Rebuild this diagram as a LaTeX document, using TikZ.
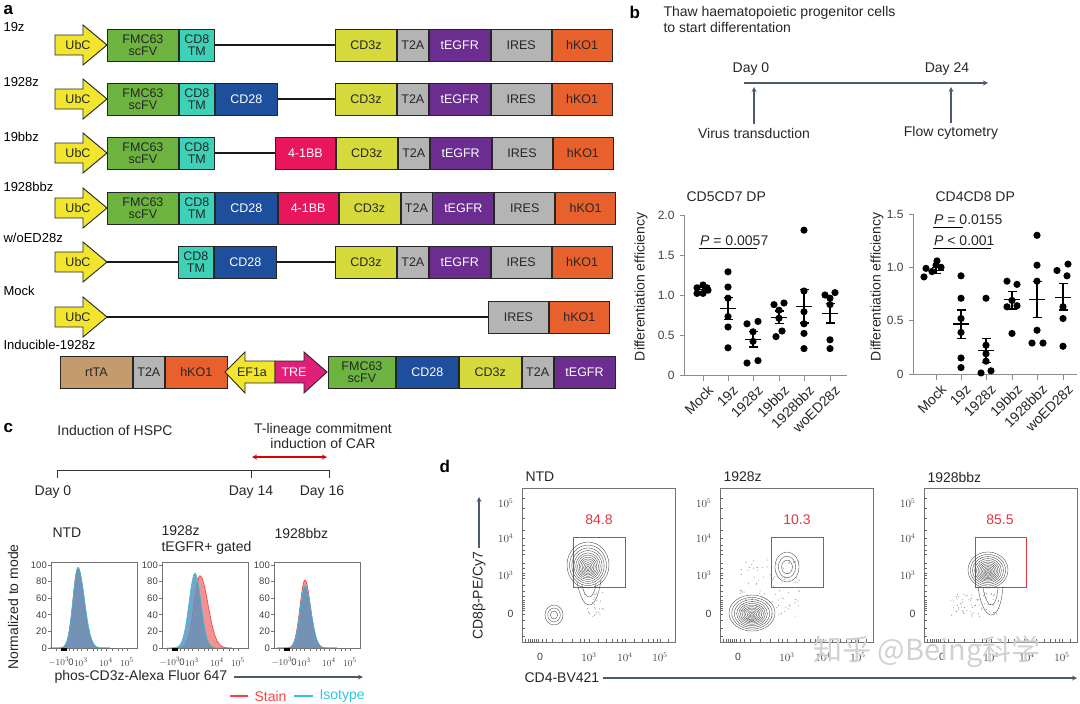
\documentclass[tikz,border=0pt]{standalone}
\usepackage{fontspec}
\setmainfont{Liberation Sans}
\newfontfamily\cjkfont{Noto Sans CJK SC}
\usetikzlibrary{positioning,calc}

\definecolor{ubcyel}{HTML}{F2E52E}
\definecolor{fmcgreen}{HTML}{6CB33F}
\definecolor{tmteal}{HTML}{3DD2B8}
\definecolor{cdblue}{HTML}{1D4F9C}
\definecolor{bbpink}{HTML}{E8175D}
\definecolor{zetayel}{HTML}{D6D93B}
\definecolor{tagray}{HTML}{B4B4B4}
\definecolor{egfrpur}{HTML}{6B2D8F}
\definecolor{hkoorange}{HTML}{E8602C}
\definecolor{rttatan}{HTML}{C59B6D}
\definecolor{tremag}{HTML}{E21F78}
\definecolor{axisgray}{HTML}{4D5A6B}
\definecolor{gatered}{HTML}{E0383B}
\definecolor{stainred}{HTML}{F29292}
\definecolor{isoblue}{HTML}{5F93BC}
\definecolor{isocyan}{HTML}{2EC4DD}

\begin{document}
\begin{tikzpicture}[x=1pt, y=-1pt,
    seg/.style={rectangle, draw=black!85, line width=0.9pt, minimum height=32pt, inner sep=0pt, align=center, text=black!85, font=\fontsize{12.5}{12}\selectfont},
    wseg/.style={seg, text=white},
    promoter/.style={draw=black!85, line width=0.9pt, fill=ubcyel},
    link/.style={line width=1.6pt, black!90},
    rowlab/.style={anchor=west, font=\fontsize{13}{13}\selectfont},
    panel/.style={anchor=west, font=\fontsize{17}{17}\selectfont\bfseries},
    txt/.style={font=\fontsize{14}{15.5}\selectfont, text=black!85},
    small/.style={font=\fontsize{12}{12}\selectfont, text=black!75},
    tiny/.style={font=\fontsize{9.5}{10}\selectfont, text=black!75},
    arrowb/.style={->, >=stealth, line width=1.2pt, axisgray},
    axis/.style={line width=0.8pt, black!45},
    meanbar/.style={line width=1.3pt, black},
    contour/.style={line width=0.35pt, black!75},
    gate/.style={line width=0.9pt, gatered}]

\useasboundingbox (0,0) rectangle (1080,704);

% ---------------- panel a ----------------
\node[panel] (pa) at (0,10) {a};

% row labels
\node[rowlab] (l19z) at (0,27) {19z};
\node[rowlab] (l1928z) at (0,82) {1928z};
\node[rowlab] (l19bbz) at (0,137) {19bbz};
\node[rowlab] (l1928bbz) at (0,187) {1928bbz};
\node[rowlab] (lwoe) at (0,238) {w/oED28z};
\node[rowlab] (lmock) at (0,291) {Mock};
\node[rowlab] (lind) at (0,345) {Inducible-1928z};

% UbC promoters
\foreach \yy in {45,99,153,208,262,317} {
    \draw[promoter] (55,\yy-10) -- (83,\yy-10) -- (83,\yy-20) -- (107,\yy) -- (83,\yy+20) -- (83,\yy+10) -- (55,\yy+10) -- cycle;
    \node[seg, draw=none, fill=none] (ubc\yy) at (78,\yy) {UbC};
}

% 19z
\node[seg, fill=fmcgreen, minimum width=71pt, anchor=west] (fmc1) at (107,45) {FMC63\\scFV};
\node[seg, fill=tmteal, minimum width=35pt, right=0pt of fmc1] (tm1) {CD8\\TM};
\node[seg, fill=zetayel, minimum width=61pt, anchor=west] (zeta1) at (335,45) {CD3z};
\node[seg, fill=tagray, minimum width=31pt, right=0pt of zeta1] (tta1) {T2A};
\node[wseg, fill=egfrpur, minimum width=61pt, right=0pt of tta1] (egfr1) {tEGFR};
\node[seg, fill=tagray, minimum width=60pt, right=0pt of egfr1] (ires1) {IRES};
\node[seg, fill=hkoorange, minimum width=60pt, right=0pt of ires1] (hko1) {hKO1};
\draw[link] (tm1.east) -- (zeta1.west);

% 1928z
\node[seg, fill=fmcgreen, minimum width=71pt, anchor=west] (fmc2) at (107,99) {FMC63\\scFV};
\node[seg, fill=tmteal, minimum width=35pt, right=0pt of fmc2] (tm2) {CD8\\TM};
\node[wseg, fill=cdblue, minimum width=62pt, right=0pt of tm2] (cd2) {CD28};
\node[seg, fill=zetayel, minimum width=61pt, anchor=west] (zeta2) at (335,99) {CD3z};
\node[seg, fill=tagray, minimum width=31pt, right=0pt of zeta2] (tta2) {T2A};
\node[wseg, fill=egfrpur, minimum width=61pt, right=0pt of tta2] (egfr2) {tEGFR};
\node[seg, fill=tagray, minimum width=60pt, right=0pt of egfr2] (ires2) {IRES};
\node[seg, fill=hkoorange, minimum width=60pt, right=0pt of ires2] (hko2) {hKO1};
\draw[link] (cd2.east) -- (zeta2.west);

% 19bbz
\node[seg, fill=fmcgreen, minimum width=71pt, anchor=west] (fmc3) at (107,153) {FMC63\\scFV};
\node[seg, fill=tmteal, minimum width=35pt, right=0pt of fmc3] (tm3) {CD8\\TM};
\node[wseg, fill=bbpink, minimum width=60pt, anchor=west] (bb3) at (275,153) {4-1BB};
\node[seg, fill=zetayel, minimum width=61pt, right=0pt of bb3] (zeta3) {CD3z};
\node[seg, fill=tagray, minimum width=31pt, right=0pt of zeta3] (tta3) {T2A};
\node[wseg, fill=egfrpur, minimum width=61pt, right=0pt of tta3] (egfr3) {tEGFR};
\node[seg, fill=tagray, minimum width=60pt, right=0pt of egfr3] (ires3) {IRES};
\node[seg, fill=hkoorange, minimum width=60pt, right=0pt of ires3] (hko3) {hKO1};
\draw[link] (tm3.east) -- (bb3.west);

% 1928bbz
\node[seg, fill=fmcgreen, minimum width=71pt, anchor=west] (fmc4) at (107,208) {FMC63\\scFV};
\node[seg, fill=tmteal, minimum width=35pt, right=0pt of fmc4] (tm4) {CD8\\TM};
\node[wseg, fill=cdblue, minimum width=62pt, right=0pt of tm4] (cd4) {CD28};
\node[wseg, fill=bbpink, minimum width=60pt, right=0pt of cd4] (bb4) {4-1BB};
\node[seg, fill=zetayel, minimum width=61pt, right=0pt of bb4] (zeta4) {CD3z};
\node[seg, fill=tagray, minimum width=31pt, right=0pt of zeta4] (tta4) {T2A};
\node[wseg, fill=egfrpur, minimum width=61pt, right=0pt of tta4] (egfr4) {tEGFR};
\node[seg, fill=tagray, minimum width=60pt, right=0pt of egfr4] (ires4) {IRES};
\node[seg, fill=hkoorange, minimum width=60pt, right=0pt of ires4] (hko4) {hKO1};

% w/oED28z
\node[seg, fill=tmteal, minimum width=35pt, anchor=west] (tm5) at (178,262) {CD8\\TM};
\node[wseg, fill=cdblue, minimum width=62pt, right=0pt of tm5] (cd5) {CD28};
\node[seg, fill=zetayel, minimum width=61pt, anchor=west] (zeta5) at (335,262) {CD3z};
\node[seg, fill=tagray, minimum width=31pt, right=0pt of zeta5] (tta5) {T2A};
\node[wseg, fill=egfrpur, minimum width=61pt, right=0pt of tta5] (egfr5) {tEGFR};
\node[seg, fill=tagray, minimum width=60pt, right=0pt of egfr5] (ires5) {IRES};
\node[seg, fill=hkoorange, minimum width=60pt, right=0pt of ires5] (hko5) {hKO1};
\draw[link] (107,262) -- (tm5.west);
\draw[link] (cd5.east) -- (zeta5.west);

% Mock
\node[seg, fill=tagray, minimum width=60pt, anchor=west] (ires6) at (488,317) {IRES};
\node[seg, fill=hkoorange, minimum width=60pt, right=0pt of ires6] (hko6) {hKO1};
\draw[link] (107,317) -- (ires6.west);

% Inducible-1928z
\node[seg, fill=rttatan, minimum width=72pt, anchor=west] (rtta7) at (60,372) {rtTA};
\node[seg, fill=tagray, minimum width=31pt, right=0pt of rtta7] (tta7a) {T2A};
\node[seg, fill=hkoorange, minimum width=62pt, right=0pt of tta7a] (hko7) {hKO1};
\draw[promoter] (225,372) -- (245,352) -- (245,361) -- (275,361) -- (275,383) -- (245,383) -- (245,393) -- cycle;
\node[seg, draw=none, fill=none] (ef7) at (252,372) {EF1a};
\draw[promoter, fill=tremag] (275,361) -- (304,361) -- (304,352) -- (327,372) -- (304,393) -- (304,383) -- (275,383) -- cycle;
\node[wseg, draw=none, fill=none] (tre7) at (294,372) {TRE};
\node[seg, fill=fmcgreen, minimum width=67pt, anchor=west] (fmc7) at (328,372) {FMC63\\scFV};
\node[wseg, fill=cdblue, minimum width=62pt, right=0pt of fmc7] (cd7) {CD28};
\node[seg, fill=zetayel, minimum width=62pt, right=0pt of cd7] (zeta7) {CD3z};
\node[seg, fill=tagray, minimum width=31pt, right=0pt of zeta7] (tta7b) {T2A};
\node[wseg, fill=egfrpur, minimum width=61pt, right=0pt of tta7b] (egfr7) {tEGFR};

% ---------------- panel b ----------------
\node[panel] (pb) at (626,12) {b};
\node[txt, anchor=north west, align=left] (thaw) at (660,3) {Thaw haematopoietic progenitor cells\\to start differentation};

\coordinate (tl0) at (744,83);
\coordinate (tl1) at (988,83);
\draw[arrowb] (tl0) -- (tl1);
\node[txt] (d0) at (751,69) {Day 0};
\node[txt] (d24) at (947,69) {Day 24};
\node[txt] (vtr) at (754,133) {Virus transduction};
\node[txt] (flow) at (951,133) {Flow cytometry};
\coordinate (up0) at (754,87);
\coordinate (up1) at (951,87);
\draw[arrowb] (vtr.north) -- (up0);
\draw[arrowb] (flow.north) -- (up1);

% plot CD5CD7 DP
\node[txt, anchor=west] (t1) at (683,197) {CD5CD7 DP};
\draw[axis] (684,215) -- (684,375) -- (847,375);
\foreach \v/\lab in {0/0, 0.5/0.5, 1/1.0, 1.5/1.5, 2/2.0} {
    \draw[axis] (680,{375-80*\v}) -- (684,{375-80*\v});
    \node[small, anchor=east] at (678,{375-80*\v}) {\lab};
}
\node[txt, rotate=90] (yl1) at (641,287) {Differentiation efficiency};
\foreach \cx/\lab in {703/Mock, 728/19z, 753/1928z, 779/19bbz, 804/1928bbz, 830/woED28z} {
    \draw[axis] (\cx,375) -- (\cx,381);
    \node[txt, rotate=45, anchor=north east, inner sep=1pt] at (\cx+4,383) {\lab};
}
\foreach \x/\v in {697/1.09, 703/1.125, 707/1.09, 697/1.02, 703/1.02, 708/1.06,
    728/1.29, 728/1.10, 728/0.96, 728/0.73, 728/0.60, 728/0.34,
    747/0.64, 758/0.67, 753/0.54, 753/0.42, 747/0.15, 758/0.18,
    774/0.88, 784/0.90, 779/0.81, 776/0.48, 782/0.55, 779/0.71,
    804/1.81, 804/1.05, 804/0.64, 804/0.52, 804/0.33, 804/0.79,
    825/1.00, 835/1.03, 830/0.96, 830/0.88, 830/0.44, 830/0.33}
    \fill (\x,{375-80*\v}) circle (3.6pt);
\foreach \cx/\m/\lo/\hi in {703/1.07/1.04/1.10, 728/0.83/0.69/0.97, 753/0.44/0.35/0.54,
    779/0.72/0.64/0.80, 804/0.86/0.65/1.07, 830/0.77/0.65/0.89} {
    \draw[meanbar] (\cx-8,{375-80*\m}) -- (\cx+8,{375-80*\m});
    \draw[meanbar] (\cx,{375-80*\lo}) -- (\cx,{375-80*\hi});
    \draw[meanbar] (\cx-4.5,{375-80*\lo}) -- (\cx+4.5,{375-80*\lo});
    \draw[meanbar] (\cx-4.5,{375-80*\hi}) -- (\cx+4.5,{375-80*\hi});
}
\node[txt, anchor=south west, inner sep=1pt] (p1) at (699,247) {\textit{P} = 0.0057};
\draw[line width=1pt] (699,248) -- (757,248);

% plot CD4CD8 DP
\node[txt, anchor=west] (t2) at (932,197) {CD4CD8 DP};
\draw[axis] (913,214) -- (913,374) -- (1077,374);
\foreach \v/\lab in {0/0, 0.5/0.5, 1/1.0, 1.5/1.5} {
    \draw[axis] (909,{374-106.7*\v}) -- (913,{374-106.7*\v});
    \node[small, anchor=east] at (907,{374-106.7*\v}) {\lab};
}
\node[txt, rotate=90] (yl2) at (877,287) {Differentiation efficiency};
\foreach \cx/\lab in {936/Mock, 961/19z, 986/1928z, 1012/19bbz, 1037/1928bbz, 1063/woED28z} {
    \draw[axis] (\cx,374) -- (\cx,380);
    \node[txt, rotate=45, anchor=north east, inner sep=1pt] at (\cx+4,382) {\lab};
}
\foreach \x/\v in {926/0.99, 936/1.02, 941/1.0, 932/0.96, 937/1.06, 924/0.91,
    961/0.92, 961/0.71, 961/0.52, 961/0.39, 961/0.15, 961/0.06,
    986/0.71, 986/0.27, 986/0.19, 986/0.12, 981/0.01, 991/0.03,
    1007/0.87, 1017/0.84, 1012/0.69, 1007/0.63, 1017/0.64, 1012/0.38,
    1037/1.30, 1037/1.02, 1037/0.87, 1037/0.41, 1032/0.29, 1043/0.29,
    1057/0.97, 1068/1.03, 1067/0.92, 1063/0.63, 1063/0.52, 1063/0.26}
    \fill (\x,{374-106.7*\v}) circle (3.6pt);
\foreach \cx/\m/\lo/\hi in {936/0.97/0.94/1.00, 961/0.47/0.33/0.60, 986/0.22/0.11/0.33,
    1012/0.70/0.61/0.77, 1037/0.70/0.53/0.87, 1063/0.72/0.60/0.85} {
    \draw[meanbar] (\cx-8,{374-106.7*\m}) -- (\cx+8,{374-106.7*\m});
    \draw[meanbar] (\cx,{374-106.7*\lo}) -- (\cx,{374-106.7*\hi});
    \draw[meanbar] (\cx-4.5,{374-106.7*\lo}) -- (\cx+4.5,{374-106.7*\lo});
    \draw[meanbar] (\cx-4.5,{374-106.7*\hi}) -- (\cx+4.5,{374-106.7*\hi});
}
\node[txt, anchor=south west, inner sep=1pt] (p2) at (933,226) {\textit{P} = 0.0155};
\draw[line width=1pt] (933,227) -- (963,227);
\node[txt, anchor=south west, inner sep=1pt] (p3) at (933,247) {\textit{P} < 0.001};
\draw[line width=1pt] (933,248) -- (991,248);

% ---------------- panel c ----------------
\node[panel] (pc) at (0,428) {c};
\node[txt] (ind) at (115,430) {Induction of HSPC};
\node[txt, align=center] (tlin) at (323,436) {T-lineage commitment\\induction of CAR};
\coordinate (c0) at (57,470);
\coordinate (c14) at (251,470);
\coordinate (c16) at (329,470);
\draw[line width=1pt, black!80] (c0) -- (c16);
\foreach \cc in {c0,c14,c16}
    \draw[line width=1pt, black!80] (\cc) -- ++(0,8);
\draw[<->, >=stealth, line width=1.3pt, red!85!black] (252,457) -- (327,457);
\node[txt] (cd0) at (53,492) {Day 0};
\node[txt] (cd14) at (251,492) {Day 14};
\node[txt] (cd16) at (322,492) {Day 16};

\node[txt, anchor=west] (hntd) at (49,533) {NTD};
\node[txt, anchor=west, align=left] (h1928z) at (158,540) {1928z\\tEGFR+ gated};
\node[txt, anchor=west] (hbbz) at (271,533) {1928bbz};

\foreach \bx/\ps/\hs/\sls/\srs/\pi/\hi/\sli/\sri in {51/78/97/5/6/78/96/5/6.5,
    162/200/87/6/8/195/90/6/6, 274/305/82/5/5.5/305/75/5/6} {
    \pgfmathsetmacro\sa{\ps-28}
    \pgfmathsetmacro\sb{\ps+32}
    \pgfmathsetmacro\ia{\pi-28}
    \pgfmathsetmacro\ib{\pi+32}
    \fill[stainred] (\sa,648) -- plot[domain=\sa:\sb, samples=70] (\x,{648-0.83*\hs*exp(-0.5*(\x-\ps)*(\x-\ps)/((\sls+(\srs-\sls)*(\x>\ps))^2))}) -- (\sb,648) -- cycle;
    \draw[red!80, line width=0.6pt] plot[domain=\sa:\sb, samples=70] (\x,{648-0.83*\hs*exp(-0.5*(\x-\ps)*(\x-\ps)/((\sls+(\srs-\sls)*(\x>\ps))^2))});
    \fill[isoblue, opacity=0.85] (\ia,648) -- plot[domain=\ia:\ib, samples=70] (\x,{648-0.83*\hi*exp(-0.5*(\x-\pi)*(\x-\pi)/((\sli+(\sri-\sli)*(\x>\pi))^2))}) -- (\ib,648) -- cycle;
    \draw[isocyan, line width=0.6pt] plot[domain=\ia:\ib, samples=70] (\x,{648-0.83*\hi*exp(-0.5*(\x-\pi)*(\x-\pi)/((\sli+(\sri-\sli)*(\x>\pi))^2))});
    \draw[axis, black!55] (\bx,562) rectangle (\bx+86,648);
    \foreach \v in {0,20,...,100} {
        \draw[axis, black!55] (\bx-3,{648-0.83*\v}) -- (\bx,{648-0.83*\v});
        \node[tiny, anchor=east, inner sep=1pt] at (\bx-3,{648-0.83*\v}) {\v};
    }
    \foreach \o/\lab in {8/$-10^3$, 20/0, 30/$10^3$, 55/$10^4$, 76/$10^5$}
        \node[tiny] at (\bx+\o,662) {\lab};
    \foreach \o in {5,10,14,18,22,26,30,36,42,46,50,55,61,67,71,76}
        \draw[black!55, line width=0.5pt] (\bx+\o,648) -- (\bx+\o,651);
    \fill[black] (\bx+10,648) rectangle (\bx+16,650.5);
}
\node[txt, rotate=90] (ylc) at (13,607) {Normalized to mode};
\node[txt, anchor=west] (xlc) at (51,677) {phos-CD3z-Alexa Fluor 647};
\coordinate (xc1) at (363,677);
\draw[arrowb] (234,677) -- (xc1);
\draw[line width=1.2pt, red!75] (230,696) -- (248,696);
\node[txt, text=red!75, anchor=west] (lstain) at (251,696) {Stain};
\draw[line width=1.2pt, isocyan] (294,696) -- (313,696);
\node[txt, text=isocyan, anchor=west] (liso) at (316,696) {Isotype};

% ---------------- panel d ----------------
\node[panel] (pd) at (436,466) {d};
\foreach \bx/\lab in {522/NTD, 720/1928z, 924/1928bbz} {
    \node[txt, anchor=west] at (\bx,477) {\lab};
    \draw[axis, black!55] (\bx,488) rectangle (\bx+153,642);
    \foreach \yy/\ylab in {503/$10^5$, 538/$10^4$, 575/$10^3$, 614/0}
        \node[tiny, anchor=east, font=\fontsize{10.5}{11}\selectfont] at (\bx-5,\yy) {\ylab};
    \foreach \o/\xlab in {18/0, 67/$10^3$, 103/$10^4$, 138/$10^5$}
        \node[tiny, font=\fontsize{10.5}{11}\selectfont] at (\bx+\o,657) {\xlab};
    \foreach \o in {3,6,8,10,12,14,16,20,24,30,40,50,58,62,67,76,84,90,95,100,103,112,120,126,131,135,138,146}
        \draw[black!60, line width=0.45pt] (\bx+\o,642) -- (\bx+\o,639);
    \foreach \o in {10,20,30,42,50,57,62,66,75,80,85,87,90,97,103,108,112,114,116,118,120,122,126,132,140,148}
        \draw[black!60, line width=0.45pt] (\bx,488+\o) -- (\bx+3,488+\o);
}
\draw[gate] (573,537) rectangle (625,587);
\node[txt, text=gatered] (g1) at (599,520) {84.8};
\draw[gate] (771,537) rectangle (823,587);
\node[txt, text=gatered] (g2) at (797,520) {10.3};
\draw[gate] (975,537) rectangle (1026,587);
\node[txt, text=gatered] (g3) at (1000,520) {85.5};

% scattered events
\pgfmathsetseed{11}
\foreach \i in {1,...,25}
    \fill[black!45] ({592+12*rand},{605+14*rand}) circle (0.55pt);
\foreach \i in {1,...,110}
    \fill[black!45] ({770+30*rand},{590+30*rand}) circle (0.55pt);
\foreach \i in {1,...,70}
    \fill[black!45] ({975+25*rand},{605+12*rand}) circle (0.55pt);

% NTD contours
\foreach \s in {1,0.88,0.77,0.67,0.58,0.5,0.42,0.35,0.28,0.21,0.14,0.08}
    \draw[contour] (588,{565+3*(1-\s)}) ellipse ({21*\s} and {23*\s});
\draw[contour] (577,582) .. controls (580,598) and (585,606) .. (590,605) .. controls (595,604) and (599,594) .. (601,580);
\draw[contour] (582,585) .. controls (584,594) and (587,598) .. (590,597) .. controls (593,596) and (595,590) .. (596,584);
\foreach \s in {1,0.7,0.4}
    \draw[contour] (554,615) ellipse ({9*\s} and {10*\s});

% 1928z contours
\foreach \s in {1,0.88,0.77,0.67,0.58,0.5,0.42,0.35,0.28,0.21,0.14,0.08}
    \draw[contour] (752,{613+2*(1-\s)}) ellipse ({23*\s} and {18*\s});
\foreach \s in {1,0.72,0.45}
    \draw[contour] (787,567) ellipse ({12*\s} and {15*\s});

% 1928bbz contours
\foreach \s in {1,0.88,0.77,0.67,0.58,0.5,0.42,0.35,0.28,0.21,0.14,0.08}
    \draw[contour] (988,{570+2*(1-\s)}) ellipse ({20*\s} and {18*\s});
\draw[contour] (978,586) .. controls (980,604) and (986,616) .. (992,615) .. controls (998,614) and (1002,602) .. (1003,586);
\draw[contour] (983,588) .. controls (985,600) and (989,606) .. (992,605) .. controls (995,604) and (997,598) .. (998,588);

\node[txt, rotate=90, anchor=east] (yld) at (479,548) {CD8β-PE/Cy7};
\coordinate (yd1) at (479,497);
\draw[arrowb] (yld.east) -- (yd1);
\node[txt, anchor=west] (xld) at (521,678) {CD4-BV421};
\coordinate (xd1) at (1077,678);
\draw[arrowb] (xld.east) -- (xd1);

% watermark
\node[font=\cjkfont\fontsize{29}{29}\selectfont, text=black!18] (wm) at (927,652) {知乎 @Being科学};

\end{tikzpicture}
\end{document}
